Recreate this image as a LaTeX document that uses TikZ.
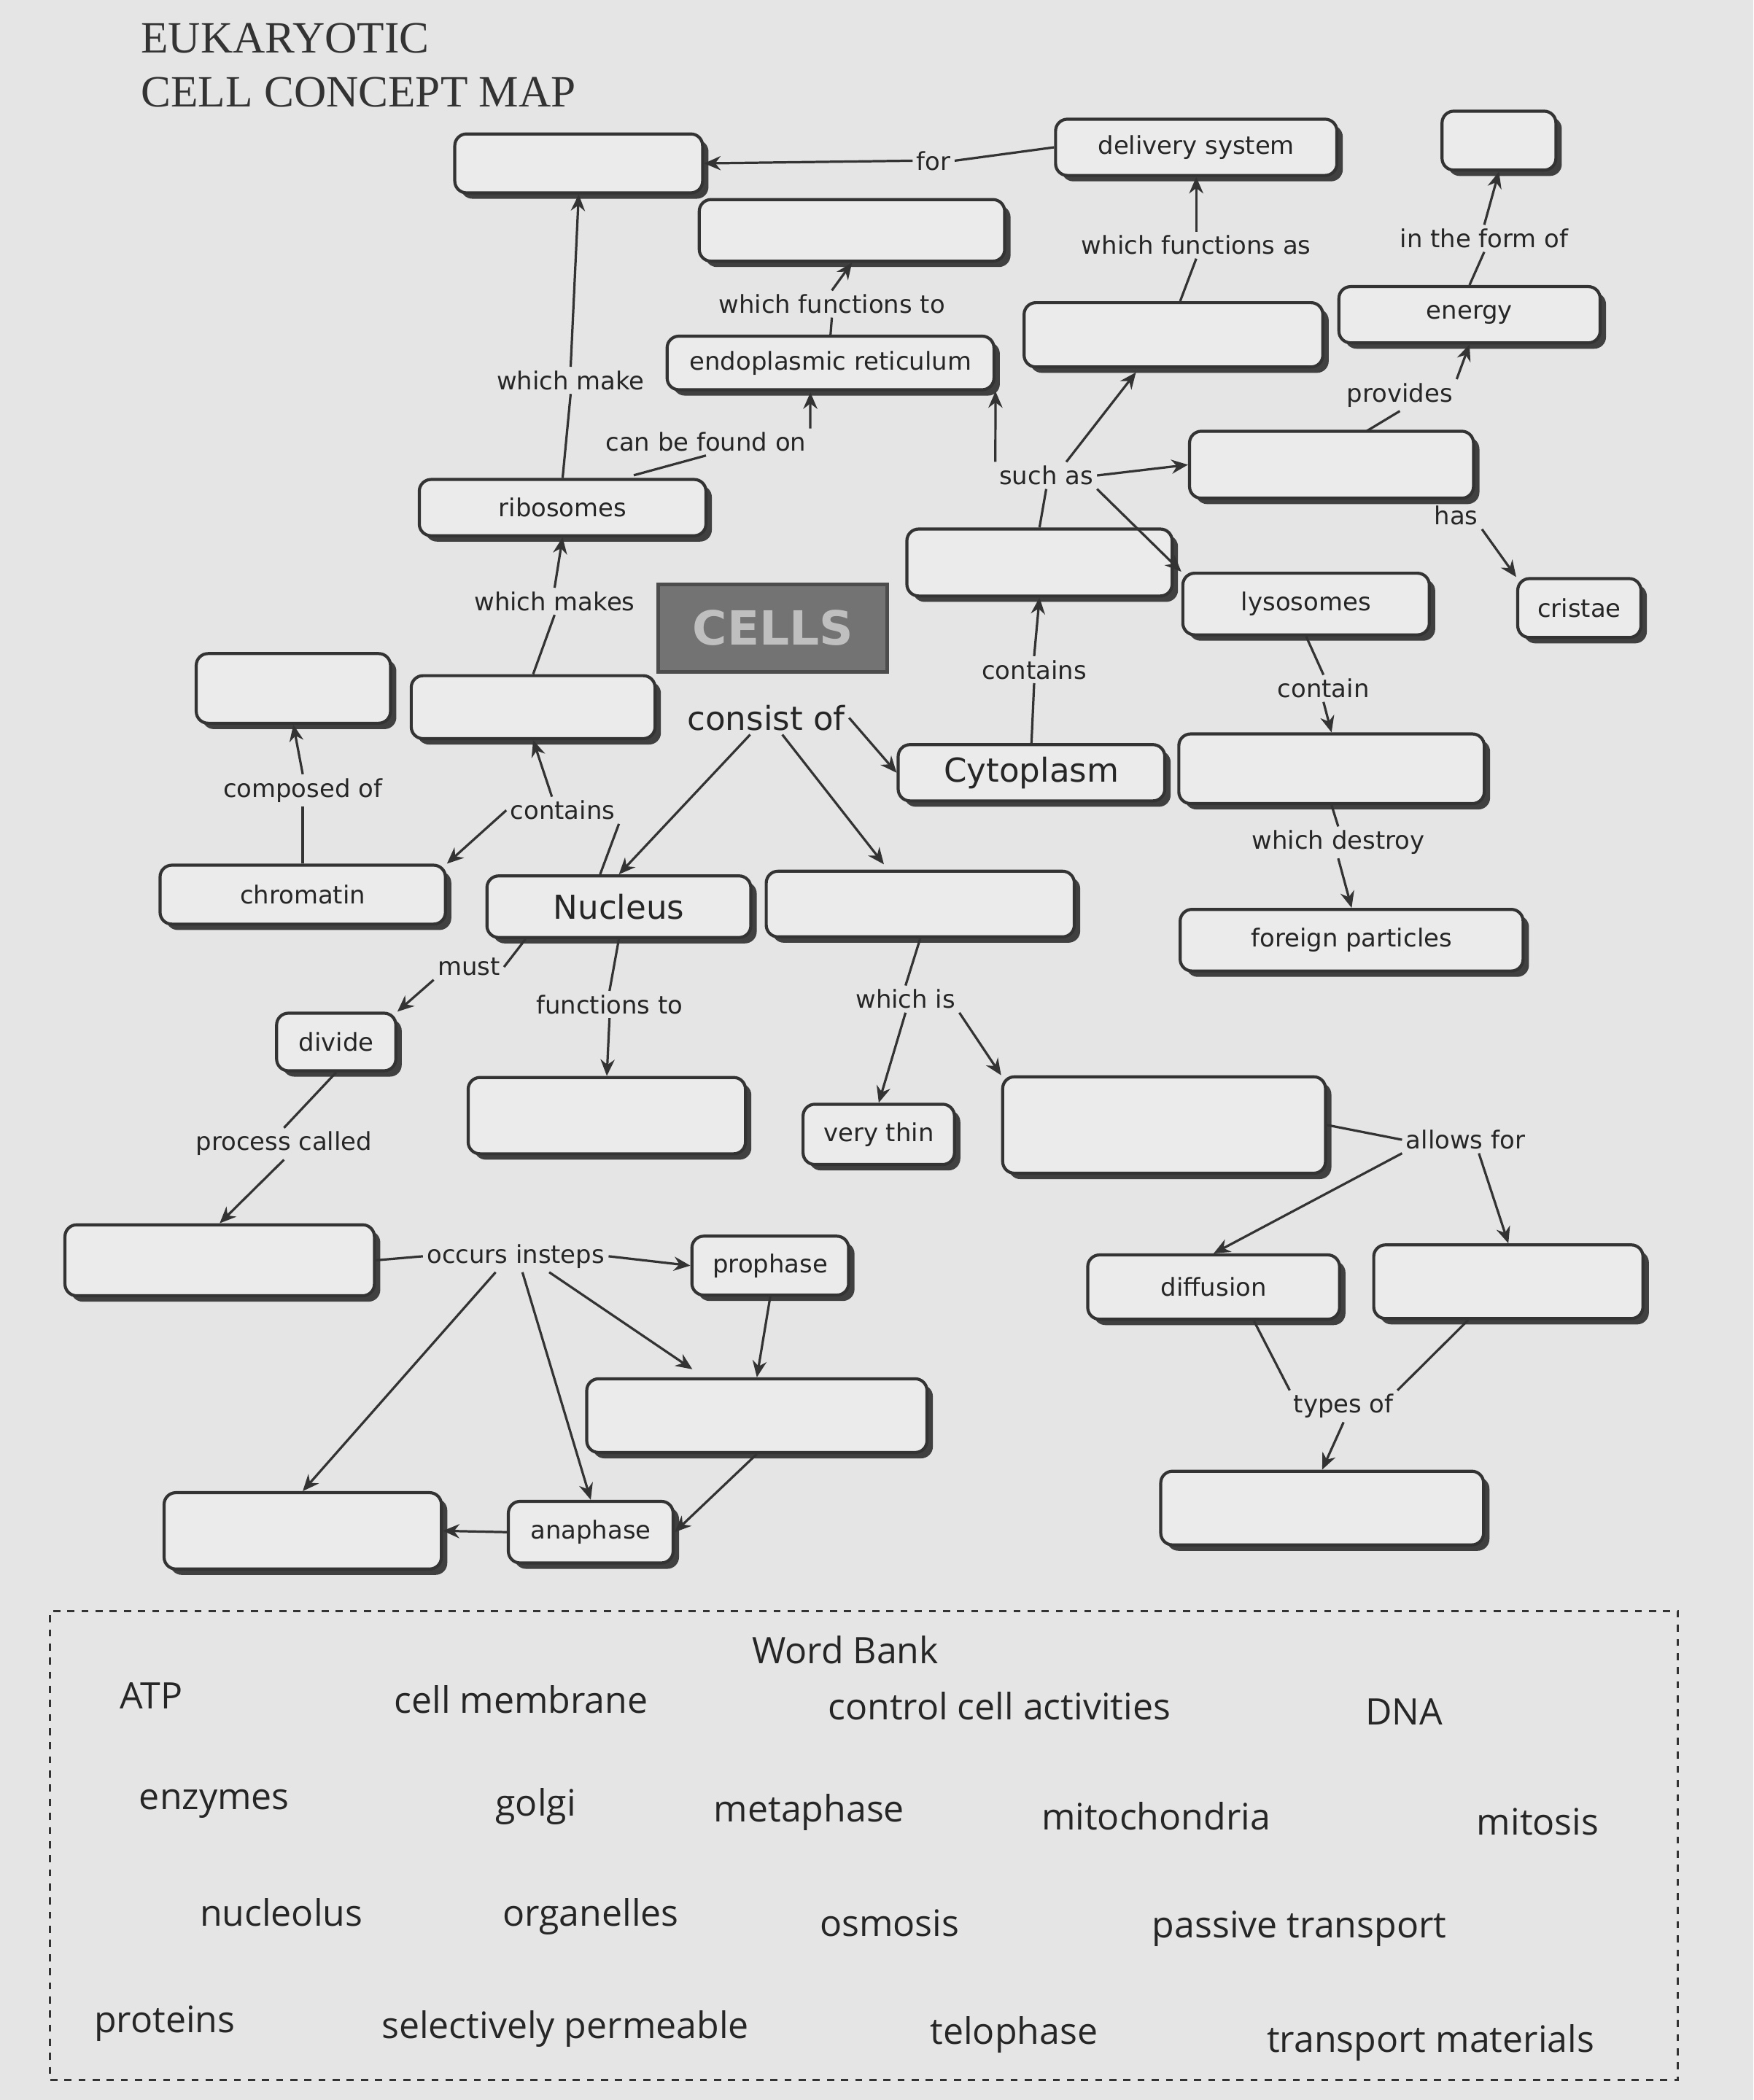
\documentclass[tikz,border=0pt]{standalone}
\usepackage{fontspec}
\setmainfont{DejaVu Sans}
\newfontfamily\wbf{Open Sans}
\newfontfamily\ttl{Liberation Serif}
\usetikzlibrary{arrows.meta,shadows,calc}
\begin{document}
\begin{tikzpicture}[x=0.02cm,y=-0.02cm,
  bx/.style={draw=black!80, rounded corners=5pt, line width=1.3pt, fill=white!92!black,
     drop shadow={shadow xshift=2.5pt,shadow yshift=-2.5pt,fill=black!75,opacity=1},
     font=\fontsize{10.5}{12}\selectfont, text=black!85},
  lb/.style={font=\fontsize{10.5}{12}\selectfont, text=black!85, inner sep=1.5pt},
  ar/.style={-{Stealth[length=7pt,width=6pt]}, line width=1pt, draw=black!80},
  ln/.style={line width=1pt, draw=black!80},
  wb/.style={font=\wbf\fontsize{15.5}{18}\selectfont, text=black!85}]
\newcommand\B[6]{\node[bx, minimum width=#4*0.02cm, minimum height=#5*0.02cm, inner sep=1pt] (#1) at (#2,#3) {#6};}
\fill[black!10] (0,0) rectangle (1309,1568);
\useasboundingbox (0,0) rectangle (1309,1568);
\node[font=\ttl\fontsize{19}{23}\selectfont, align=left, anchor=north west, text=black!80, inner sep=0] (title) at (105,17) {EUKARYOTIC\\CELL CONCEPT MAP};
% boxes
\B{b1}{432}{122}{185}{44}{}
\B{deliv}{893}{110}{210}{42}{delivery system}
\B{btr}{1119}{105}{85}{44}{}
\B{b2}{636}{172}{228}{46}{}
\B{er}{620}{271}{244}{40}{endoplasmic reticulum}
\B{b3}{876}{250}{223}{48}{}
\B{energy}{1097}{235}{195}{42}{energy}
\B{b4}{994}{347}{212}{50}{}
\B{ribo}{420}{379}{214}{42}{ribosomes}
\B{b5}{776}{420}{198}{50}{}
\B{lyso}{975}{451}{184}{46}{lysosomes}
\B{cris}{1179}{454}{92}{44}{cristae}
\node[draw=black!70, line width=1.5pt, fill=black!55, minimum width=171*0.02cm, minimum height=65*0.02cm, font=\fontsize{20}{22}\selectfont\bfseries, text=black!25] (cells) at (577,469) {CELLS};
\B{b6}{219}{514}{145}{52}{}
\B{b7}{398}{528}{182}{47}{}
\B{cyto}{770}{577}{199}{42}{\fontsize{14}{16}\selectfont Cytoplasm}
\B{b8}{994}{574}{228}{52}{}
\B{chrom}{226}{668}{213}{44}{chromatin}
\B{nuc}{462}{677}{197}{46}{\fontsize{14}{16}\selectfont Nucleus}
\B{b9}{687}{675}{230}{49}{}
\B{fp}{1009}{702}{256}{46}{foreign particles}
\B{div}{251}{778}{89}{43}{divide}
\B{b10}{453}{833}{207}{57}{}
\B{thin}{656}{847}{113}{45}{very thin}
\B{b11}{869}{840}{241}{72}{}
\B{b12}{164}{941}{231}{53}{}
\B{pro}{575}{945}{117}{44}{prophase}
\B{diff}{906}{961}{188}{48}{diffusion}
\B{b13}{1126}{957}{201}{55}{}
\B{b14}{565}{1057}{254}{55}{}
\B{b15}{226}{1143}{207}{57}{}
\B{ana}{441}{1144}{123}{46}{anaphase}
\B{b16}{987}{1126}{241}{55}{}
% labels
\node[lb] (for) at (697,120) {for};
\node[lb] (wfa) at (893,183) {which functions as};
\node[lb] (itf) at (1108,178) {in the form of};
\node[lb] (wft) at (621,227) {which functions to};
\node[lb] (wm) at (426,284) {which make};
\node[lb] (prov) at (1045,295) {provides};
\node[lb] (cbf) at (527,330) {can be found on};
\node[lb] (such) at (781,355) {such as};
\node[lb] (has) at (1087,385) {has};
\node[lb] (wms) at (414,449) {which makes};
\node[lb] (cont) at (772,500) {contains};
\node[lb] (contn) at (988,514) {contain};
\node[lb, font=\fontsize{14}{16}\selectfont] (cons) at (572,536) {consist of};
\node[lb] (comp) at (226,590) {composed of};
\node[lb] (conts) at (420,605) {contains};
\node[lb] (wd) at (999,629) {which destroy};
\node[lb] (must) at (350,722) {must};
\node[lb] (fto) at (455,750) {functions to};
\node[lb] (wis) at (676,746) {which is};
\node[lb] (allow) at (1094,851) {allows for};
\node[lb] (proc) at (212,854) {process called};
\node[lb] (occ) at (385,938) {occurs insteps};
\node[lb] (types) at (1003,1050) {types of};
\coordinate (b9t) at ($(b9.north west)+(89,-4)$);
\coordinate (b14t) at ($(b14.north west)+(80,-6)$);
\coordinate (b3t) at ($(b3.north)+(5,0)$);
% connectors
\draw[ln] (deliv.west) -- (for.east);
\draw[ar] (for.west) -- (b1.east);
\draw[ln] (b3t) -- (wfa.south);
\draw[ar] (wfa.north) -- (deliv.south);
\draw[ln] (energy.north) -- (itf.south);
\draw[ar] (itf.north) -- (btr.south);
\draw[ln] (er.north) -- (wft.south);
\draw[ar] (wft.north) -- (b2.south);
\draw[ln] (ribo.north) -- (wm.south);
\draw[ar] (wm.north) -- (b1.south);
\draw[ln] (ribo.north east) ++(-55,-2) -- (cbf.south);
\draw[ar] (cbf.north east) -- (605,293);
\draw[ln] (b5.north) -- (such.south);
\draw[ar] (such.north west) -- (er.south east);
\draw[ar] (such.north) ++(15,0) -- (848,278);
\draw[ar] (such.east) -- (b4.west);
\draw[ar] (such.south east) -- (lyso.north west);
\draw[ln] (1020,322) -- (prov.south);
\draw[ar] (prov.north east) -- (energy.south);
\draw[ar] (has.south east) -- (cris.north west);
\draw[ln] (cyto.north) -- (cont.south);
\draw[ar] (cont.north) -- (b5.south);
\draw[ln] (lyso.south) -- (contn.north);
\draw[ar] (contn.south) -- (b8.north);
\draw[ln] (b8.south) -- (wd.north);
\draw[ar] (wd.south) -- (fp.north);
\draw[ar] (cons.east) -- (cyto.west);
\draw[ar] (cons.south) ++(-12,0) -- (nuc.north);
\draw[ar] (cons.south) ++(12,0) -- (b9t);
\draw[ln] (b7.north) -- (wms.south);
\draw[ar] (wms.north) -- (ribo.south);
\draw[ln] (nuc.north) ++(-14,0) -- (conts.south east);
\draw[ar] (conts.north) ++(-8,0) -- (b7.south);
\draw[ar] (conts.west) -- (chrom.north east);
\draw[ln] (chrom.north) -- (comp.south);
\draw[ar] (comp.north) -- (b6.south);
\draw[ln] (nuc.south west) ++(30,0) -- (must.east);
\draw[ar] (must.south west) -- (div.north east);
\draw[ln] (nuc.south) -- (fto.north);
\draw[ar] (fto.south) -- (b10.north);
\draw[ln] (b9.south) -- (wis.north);
\draw[ar] (wis.south) -- (thin.north);
\draw[ar] (wis.south east) -- (b11.north west);
\draw[ln] (div.south) -- (proc.north);
\draw[ar] (proc.south) -- (b12.north);
\draw[ln] (b11.east) -- (allow.west);
\draw[ar] (allow.south west) -- (diff.north);
\draw[ar] (allow.south) ++(10,0) -- (b13.north);
\draw[ln] (b12.east) -- (occ.west);
\draw[ar] (occ.east) -- (pro.west);
\draw[ar] (occ.south) ++(-15,0) -- (b15.north);
\draw[ar] (occ.south) ++(5,0) -- (ana.north);
\draw[ar] (occ.south) ++(25,0) -- (b14t);
\draw[ar] (pro.south) -- (b14.north);
\draw[ar] (b14.south) -- (ana.east);
\draw[ar] (ana.west) -- (b15.east);
\draw[ln] (diff.south) ++(30,0) -- (types.north west);
\draw[ln] (b13.south) ++(-30,0) -- (types.north east);
\draw[ar] (types.south) -- (b16.north);
% word bank
\node[draw=black!80, dashed, line width=0.9pt, minimum width=1215*0.02cm, minimum height=350*0.02cm, inner sep=0] (bank) at (645,1378) {};
\node[wb] (wbt) at (631,1232) {Word Bank};
\node[wb] at (113,1266) {ATP};
\node[wb] at (389,1269) {cell membrane};
\node[wb] at (746,1274) {control cell activities};
\node[wb] at (1048,1278) {DNA};
\node[wb] at (160,1347) {enzymes};
\node[wb] at (400,1349) {golgi};
\node[wb] at (604,1353) {metaphase};
\node[wb] at (863,1356) {mitochondria};
\node[wb] at (1148,1360) {mitosis};
\node[wb] at (210,1428) {nucleolus};
\node[wb] at (441,1431) {organelles};
\node[wb] at (664,1436) {osmosis};
\node[wb] at (970,1440) {passive transport};
\node[wb] at (123,1511) {proteins};
\node[wb] at (422,1515) {selectively permeable};
\node[wb] at (757,1519) {telophase};
\node[wb] at (1068,1525) {transport materials};
\end{tikzpicture}
\end{document}
